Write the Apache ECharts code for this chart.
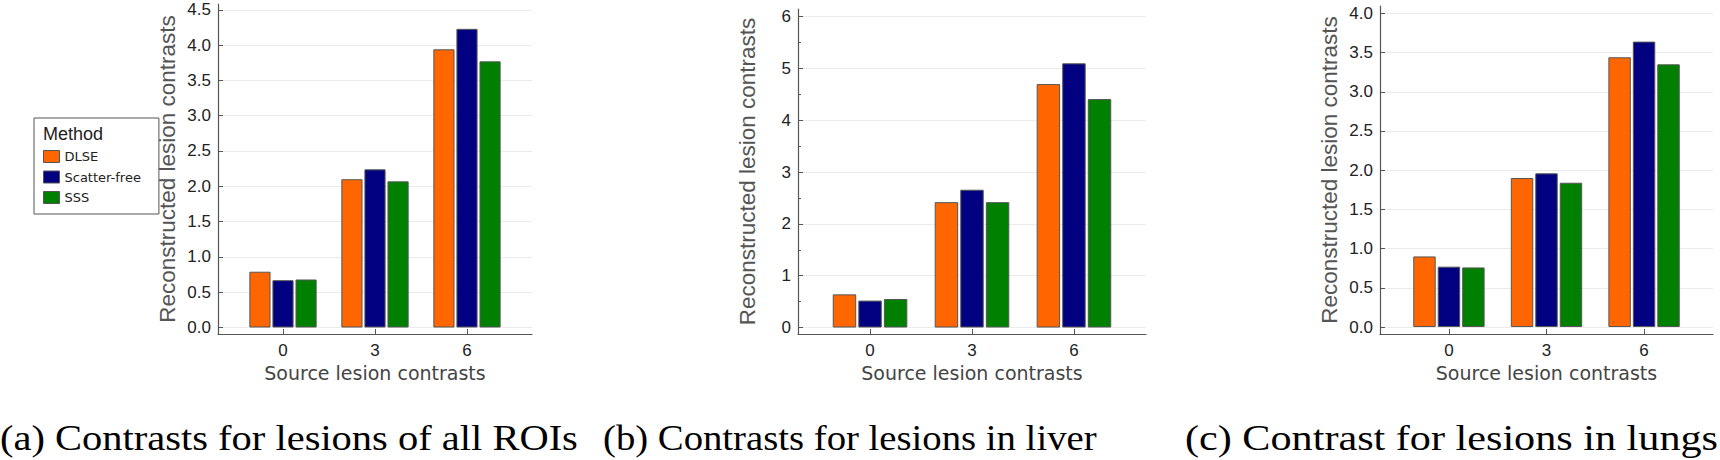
<!DOCTYPE html>
<html>
<head>
<meta charset="utf-8">
<script src="https://cdn.jsdelivr.net/npm/echarts@6/dist/echarts.min.js"></script>
<style>
html, body { margin: 0; padding: 0; background: #ffffff; }
#chart { width: 1720px; height: 460px; }
</style>
</head>
<body>
<div id="chart"></div>
<script>
// ---------------- data ----------------
const categories = [0, 3, 6];
const methods = ['DLSE', 'Scatter-free', 'SSS'];

const allDLSE = [0.79, 2.10, 3.94];
const allScatterFree = [0.67, 2.24, 4.23];
const allSSS = [0.68, 2.07, 3.77];

const liverDLSE = [0.64, 2.42, 4.70];
const liverScatterFree = [0.52, 2.66, 5.10];
const liverSSS = [0.55, 2.42, 4.41];

const lungsDLSE = [0.90, 1.90, 3.44];
const lungsScatterFree = [0.77, 1.96, 3.64];
const lungsSSS = [0.76, 1.84, 3.35];

const yTicksA = [0, 0.5, 1, 1.5, 2, 2.5, 3, 3.5, 4, 4.5];
const yTicksB = [0, 1, 2, 3, 4, 5, 6];
const yMinorB = [0.5, 1.5, 2.5, 3.5, 4.5, 5.5];
const yTicksC = [0, 0.5, 1, 1.5, 2, 2.5, 3, 3.5, 4];

const captions = [
  '(a) Contrasts for lesions of all ROIs',
  '(b) Contrasts for lesions in liver',
  '(c) Contrast for lesions in lungs'
];
const xTitle = 'Source lesion contrasts';
const yTitle = 'Reconstructed lesion contrasts';
const legendTitle = 'Method';

// ---------------- styling / layout ----------------
const colors = ['#ff6600', '#000080', '#008000'];
const axisColor = '#555555';
const gridColor = '#ebebeb';
const sansTick = 'Liberation Sans, Arial, sans-serif';
const sansDV = 'DejaVu Sans, sans-serif';
const serifFont = '36px "Liberation Serif", serif';

const panels = [
  { grid: { left: 218, top: 4, width: 314, height: 330 }, yMin: -0.092, yMax: 4.582, ticks: yTicksA, dec: 1,
    data: [allDLSE, allScatterFree, allSSS] },
  { grid: { left: 798, top: 9, width: 348, height: 325 }, yMin: -0.125, yMax: 6.149, ticks: yTicksB, dec: 0,
    minor: yMinorB, data: [liverDLSE, liverScatterFree, liverSSS] },
  { grid: { left: 1380, top: 6, width: 333, height: 328 }, yMin: -0.089, yMax: 4.094, ticks: yTicksC, dec: 1,
    data: [lungsDLSE, lungsScatterFree, lungsSSS] }
];

const grids = [], xAxes = [], yAxes = [], series = [];
panels.forEach((p, i) => {
  grids.push(p.grid);
  xAxes.push({
    type: 'value', gridIndex: i, min: -2.12, max: 8.12,
    axisLine: { show: true, onZero: false, lineStyle: { color: axisColor, width: 1.2 } },
    axisTick: { show: true, inside: true, length: 5, customValues: categories, lineStyle: { color: axisColor } },
    axisLabel: { customValues: categories, fontFamily: sansTick, fontSize: 17, color: '#222', margin: 8 },
    splitLine: { show: false },
    name: xTitle, nameLocation: 'middle', nameGap: 28,
    nameTextStyle: { fontFamily: sansDV, fontSize: 19, color: '#444' }
  });
  const mainY = yAxes.length;
  yAxes.push({
    type: 'value', gridIndex: i, min: p.yMin, max: p.yMax, position: 'left',
    axisLine: { show: true, onZero: false, lineStyle: { color: axisColor, width: 1.2 } },
    axisTick: { show: true, inside: true, length: 5, customValues: p.ticks, lineStyle: { color: axisColor } },
    axisLabel: { customValues: p.ticks, fontFamily: sansTick, fontSize: 17, color: '#222', margin: 7,
      formatter: (v) => Number(v).toFixed(p.dec) },
    splitLine: { show: true, lineStyle: { color: gridColor, width: 1 } },
    name: yTitle, nameLocation: 'middle', nameRotate: 90, nameGap: 39,
    nameTextStyle: { fontFamily: sansTick, fontSize: 22.5, color: '#555' }
  });
  if (p.minor) {
    yAxes.push({
      type: 'value', gridIndex: i, min: p.yMin, max: p.yMax, position: 'left',
      axisLine: { show: false, onZero: false },
      axisTick: { show: true, inside: true, length: 3, customValues: p.minor, lineStyle: { color: axisColor } },
      axisLabel: { show: false },
      splitLine: { show: false }
    });
  }
  methods.forEach((m, k) => {
    series.push({
      type: 'bar', name: m, xAxisIndex: i, yAxisIndex: mainY,
      data: categories.map((c, j) => [c, p.data[k][j]]),
      barWidth: '23%', barGap: '9%',
      itemStyle: { color: colors[k], borderColor: '#555', borderWidth: 1 }
    });
  });
});

// captions: Liberation Serif stretched horizontally to the width of the original (Computer Modern) captions
const captionLefts = [0, 603, 1185];
const captionWidths = [578, 494, 533];
const measureCtx = document.createElement('canvas').getContext('2d');
measureCtx.font = serifFont;
const graphics = captions.map((t, i) => {
  const w = measureCtx.measureText(t).width || 1;
  return {
    type: 'text', x: captionLefts[i], y: 420, scaleX: captionWidths[i] / w,
    style: { text: t, font: serifFont, fill: '#000', textAlign: 'left', textVerticalAlign: 'top' }
  };
});

const chart = echarts.init(document.getElementById('chart'), null, { renderer: 'svg' });
chart.setOption({
  animation: false,
  backgroundColor: '#ffffff',
  color: colors,
  title: [{ text: legendTitle, left: 43, top: 125, padding: 0,
    textStyle: { fontFamily: sansTick, fontSize: 18, fontWeight: 'normal', color: '#222' } }],
  legend: {
    data: methods, orient: 'vertical', left: 34, top: 118,
    padding: [32, 18, 10, 9], itemWidth: 16, itemHeight: 12, itemGap: 7.5, icon: 'rect',
    borderColor: '#555', borderWidth: 1, selectedMode: false,
    textStyle: { fontFamily: sansDV, fontSize: 13, color: '#222' },
    itemStyle: { borderColor: '#555', borderWidth: 1 }
  },
  grid: grids,
  xAxis: xAxes,
  yAxis: yAxes,
  series: series,
  graphic: graphics
});
</script>
</body>
</html>
